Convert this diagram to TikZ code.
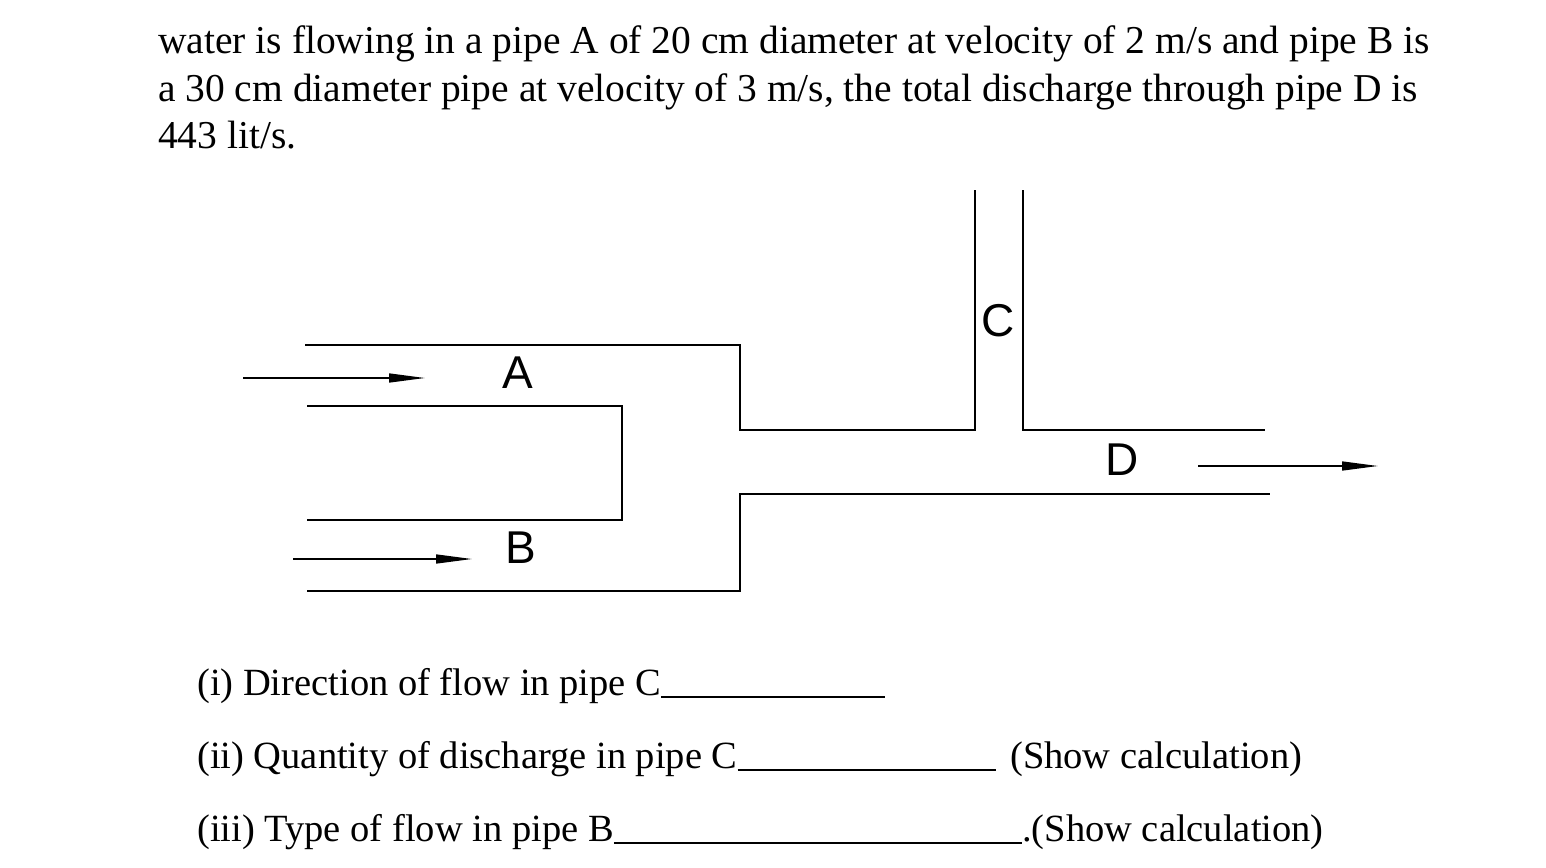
\documentclass[tikz,border=0pt]{standalone}
\usepackage{fontspec}
\setmainfont{Liberation Serif}
\newfontfamily\arialf{Liberation Sans}
\usetikzlibrary{arrows.meta}
\begin{document}
\begin{tikzpicture}[x=1pt,y=-1pt,
  pipe/.style={line width=2pt},
  flow/.style={line width=1.5pt,-{Triangle[length=36pt,width=9pt]}},
  lbl/.style={font=\arialf\fontsize{46}{46}\selectfont,inner sep=0},
  txt/.style={font=\fontsize{39.5}{39.5}\selectfont,anchor=base west,inner sep=0},
  qtxt/.style={font=\fontsize{38.5}{38.5}\selectfont,anchor=base west,inner sep=0}]
\useasboundingbox (0,0) rectangle (1546,867);
\node[txt] (t1) at (158,53) {water is flowing in a pipe A of 20 cm diameter at velocity of 2 m/s and pipe B is};
\node[txt] (t2) at (158,101) {a 30 cm diameter pipe at velocity of 3 m/s, the total discharge through pipe D is};
\node[txt] (t3) at (158,148) {443 lit/s.};
% pipes
\draw[pipe] (305,345) -- (740,345) -- (740,430) -- (975,430) -- (975,190);
\draw[pipe] (1023,190) -- (1023,430) -- (1265,430);
\draw[pipe] (307,406) -- (622,406) -- (622,520) -- (307,520);
\draw[pipe] (307,591) -- (740,591) -- (740,494) -- (1270,494);
% arrows
\coordinate (a1) at (243,378); \coordinate (a2) at (425,378);
\coordinate (b1) at (293,559); \coordinate (b2) at (472,559);
\coordinate (d1) at (1198,466); \coordinate (d2) at (1378,466);
\draw[flow] (a1) -- (a2);
\draw[flow] (b1) -- (b2);
\draw[flow] (d1) -- (d2);
\node[lbl] (A) at (518,373) {A};
\node[lbl] (B) at (521,548) {B};
\node[lbl] (C) at (998,321) {C};
\node[lbl] (D) at (1122,460) {D};
% questions
\node[qtxt] (q1) at (197,695) {(i) Direction of flow in pipe C};
\draw[line width=1.5pt] (q1.base east) ++(0,2) -- (885,697);
\node[qtxt] (q2) at (197,768) {(ii) Quantity of discharge in pipe C};
\draw[line width=1.5pt] (q2.base east) ++(0,2) -- (996,770);
\node[qtxt] (q2b) at (1010,768) {(Show calculation)};
\node[qtxt] (q3) at (197,841) {(iii) Type of flow in pipe B};
\draw[line width=1.5pt] (q3.base east) ++(0,2) -- (1022,843);
\node[qtxt] (q3b) at (1022,841) {.(Show calculation)};
\end{tikzpicture}
\end{document}
